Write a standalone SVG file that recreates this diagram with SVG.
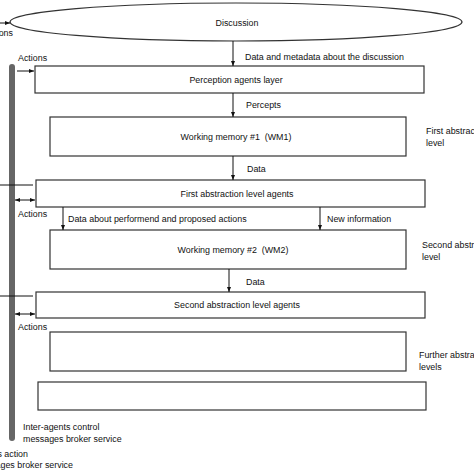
<svg xmlns="http://www.w3.org/2000/svg" width="474" height="474" viewBox="0 0 474 474">
<defs>
<marker id="ah" viewBox="0 0 10 10" refX="10" refY="5" markerWidth="5" markerHeight="5" orient="auto-start-reverse" markerUnits="userSpaceOnUse"><path d="M0,1 L10,5 L0,9 z" fill="#111"/></marker>
<style>
.box{fill:#fff;stroke:#333;stroke-width:1.2}
.t{font-family:"Liberation Sans",Arial,sans-serif;font-size:8.9px;fill:#111}
.c{text-anchor:middle}
.ln{stroke:#111;stroke-width:1;fill:none}
.ar{stroke:#111;stroke-width:1;fill:none;marker-end:url(#ah)}
.da{stroke:#111;stroke-width:1;fill:none;marker-end:url(#ah);marker-start:url(#ah)}
</style>
</defs>
<rect width="474" height="474" fill="#fff"/>
<g id="broker">
<line x1="12" y1="67" x2="12" y2="438" stroke="#666" stroke-width="6" stroke-linecap="round"/>
<text class="t" x="23" y="430">Inter-agents control</text>
<text class="t" x="23" y="442">messages broker service</text>
</g>
<g id="discussion">
<ellipse cx="236" cy="22" rx="226" ry="19" class="box"/>
<text class="t c" x="237" y="26">Discussion</text>
</g>
<g id="perception">
<rect class="box" x="35" y="66" width="389" height="27"/>
<text class="t c" x="236" y="83">Perception agents layer</text>
</g>
<g id="wm1">
<rect class="box" x="50" y="117" width="356" height="39"/>
<text class="t c" x="236" y="140">Working memory #1&#160; (WM1)</text>
</g>
<g id="first">
<rect class="box" x="36" y="180" width="389" height="27"/>
<text class="t c" x="237" y="197">First abstraction level agents</text>
</g>
<g id="wm2">
<rect class="box" x="50" y="230" width="356" height="39"/>
<text class="t c" x="233" y="253">Working memory #2&#160; (WM2)</text>
</g>
<g id="second">
<rect class="box" x="36" y="292" width="389" height="26"/>
<text class="t c" x="237" y="308">Second abstraction level agents</text>
</g>
<g id="further">
<rect class="box" x="50" y="332" width="356" height="39"/>
</g>
<g id="last">
<rect class="box" x="38" y="382" width="388" height="28"/>
</g>
<g id="side-labels">
<text class="t" x="426" y="134">First abstraction</text>
<text class="t" x="426" y="146">level</text>
<text class="t" x="422" y="248">Second abstraction</text>
<text class="t" x="422" y="260">level</text>
<text class="t" x="419" y="358">Further abstraction</text>
<text class="t" x="419" y="370">levels</text>
</g>
<g id="connectors">
<line class="ar" x1="0" y1="23" x2="10" y2="23"/>
<text class="t" x="13" y="36" text-anchor="end">Actions</text>
<line class="ar" x1="233" y1="41" x2="233" y2="66"/>
<text class="t" x="245" y="60">Data and metadata about the discussion</text>
<line class="ar" x1="17" y1="71" x2="34" y2="71"/>
<text class="t" x="18" y="61">Actions</text>
<line class="ar" x1="233" y1="93" x2="233" y2="117"/>
<text class="t" x="246" y="108">Percepts</text>
<line class="ar" x1="233" y1="156" x2="233" y2="180"/>
<text class="t" x="247" y="172">Data</text>
<line class="ln" x1="0" y1="185" x2="33" y2="185"/>
<line class="da" x1="15" y1="200" x2="35" y2="200"/>
<text class="t" x="18" y="217">Actions</text>
<line class="ar" x1="63" y1="207" x2="63" y2="230"/>
<text class="t" x="68" y="222">Data about performend and proposed actions</text>
<line class="ar" x1="320" y1="207" x2="320" y2="230"/>
<text class="t" x="327" y="222">New information</text>
<line class="ar" x1="229" y1="269" x2="229" y2="292"/>
<text class="t" x="246" y="285">Data</text>
<line class="ln" x1="0" y1="296" x2="33" y2="296"/>
<line class="da" x1="15" y1="314" x2="35" y2="314"/>
<text class="t" x="18" y="330">Actions</text>
<text class="t" x="28" y="457" text-anchor="end">Inter-agents action</text>
<text class="t" x="73" y="468" text-anchor="end">messages broker service</text>
</g>
</svg>
